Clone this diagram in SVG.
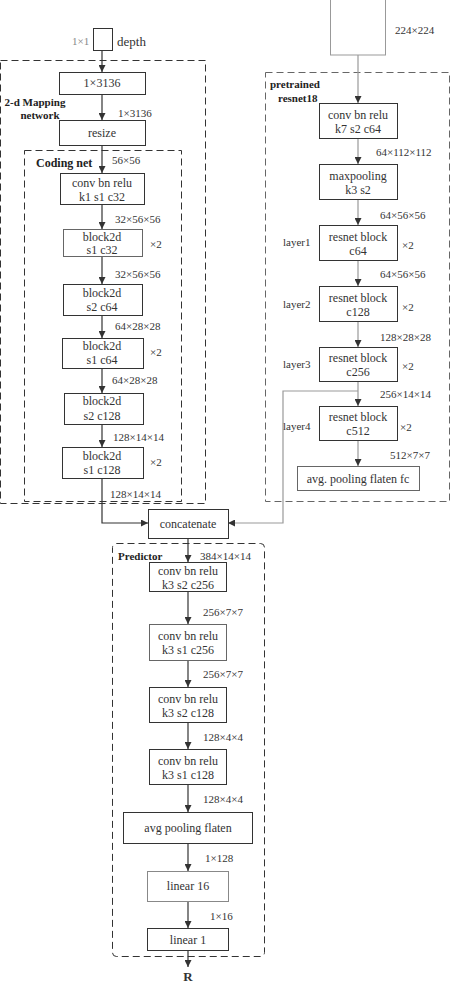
<svg xmlns="http://www.w3.org/2000/svg" width="452" height="986" viewBox="0 0 452 986">
<defs>
<marker id="ah" viewBox="0 0 8 8" refX="8" refY="4" markerWidth="7" markerHeight="7" markerUnits="userSpaceOnUse" orient="auto">
<path d="M0,0 L8,4 L0,8 z" fill="#333"/>
</marker>
</defs>
<style>
text{font-family:"Liberation Serif","Times New Roman",serif;fill:#333}
.b{fill:#fff;stroke:#333;stroke-width:1}
.bt{font-size:12px;text-anchor:middle}
.lb{font-size:11px}
.hd{font-size:11px;font-weight:bold;fill:#222}
.dash{fill:none;stroke:#333;stroke-width:1;stroke-dasharray:7,4}
.c{fill:none;stroke:#333;stroke-width:1.2}
.cg{fill:none;stroke:#999;stroke-width:1.2}
</style>
<rect width="452" height="986" fill="#fff"/>

<g id="containers">
<rect id="mapping" class="dash" x="0.5" y="60.5" width="205" height="443"/>
<rect id="codingnet" class="dash" x="24.5" y="150.5" width="157" height="351"/>
<rect id="resnet" class="dash" x="265.5" y="72.5" width="184" height="429" style="stroke:#666"/>
<rect id="predictor" class="dash" x="112.5" y="543.5" width="152" height="413" rx="4"/>
<text class="hd" x="35" y="106" text-anchor="middle">2-d Mapping</text>
<text class="hd" x="40" y="119" text-anchor="middle">network</text>
<text class="hd" x="36" y="167" style="font-size:12px">Coding net</text>
<text class="hd" x="270" y="88">pretrained</text>
<text class="hd" x="278" y="102">resnet18</text>
<text class="hd" x="118" y="560">Predictor</text>
</g>

<g id="connectors">
<line class="c" x1="102" y1="50" x2="102" y2="72" marker-end="url(#ah)"/>
<line class="c" x1="102" y1="94" x2="102" y2="120" marker-end="url(#ah)"/>
<line class="c" x1="102" y1="145" x2="102" y2="173" marker-end="url(#ah)"/>
<line class="c" x1="102" y1="204" x2="102" y2="229" marker-end="url(#ah)"/>
<line class="c" x1="102" y1="256" x2="102" y2="284" marker-end="url(#ah)"/>
<line class="c" x1="102" y1="315" x2="102" y2="338" marker-end="url(#ah)"/>
<line class="c" x1="102" y1="368" x2="102" y2="393" marker-end="url(#ah)"/>
<line class="c" x1="102" y1="424" x2="102" y2="447" marker-end="url(#ah)"/>
<path class="c" d="M102,478 V523 H148" marker-end="url(#ah)"/>
<line class="cg" x1="358" y1="55" x2="358" y2="103" marker-end="url(#ah)"/>
<line class="cg" x1="358" y1="138" x2="358" y2="164" marker-end="url(#ah)"/>
<line class="cg" x1="358" y1="199" x2="358" y2="225" marker-end="url(#ah)"/>
<line class="cg" x1="358" y1="260" x2="358" y2="286" marker-end="url(#ah)"/>
<line class="cg" x1="358" y1="321" x2="358" y2="347" marker-end="url(#ah)"/>
<line class="cg" x1="358" y1="381" x2="358" y2="406" marker-end="url(#ah)"/>
<line class="cg" x1="358" y1="440" x2="358" y2="466" marker-end="url(#ah)"/>
<path class="cg" d="M358,391 H283 V523 H228" marker-end="url(#ah)"/>
<line class="c" x1="188" y1="538" x2="188" y2="562" marker-end="url(#ah)"/>
<line class="c" x1="188" y1="591" x2="188" y2="624" marker-end="url(#ah)"/>
<line class="c" x1="188" y1="660" x2="188" y2="687" marker-end="url(#ah)"/>
<line class="c" x1="188" y1="722" x2="188" y2="749" marker-end="url(#ah)"/>
<line class="c" x1="188" y1="784" x2="188" y2="812" marker-end="url(#ah)"/>
<line class="c" x1="188" y1="843" x2="188" y2="871" marker-end="url(#ah)"/>
<line class="c" x1="188" y1="901" x2="188" y2="928" marker-end="url(#ah)"/>
<line class="c" x1="188" y1="950" x2="188" y2="967" marker-end="url(#ah)"/>
</g>

<g id="labels">
<text class="lb" x="72" y="45" style="fill:#888">1×1</text>
<text x="117" y="46" style="font-size:13px">depth</text>
<text class="lb" x="118" y="117">1×3136</text>
<text class="lb" x="112" y="164">56×56</text>
<text class="lb" x="115" y="223">32×56×56</text>
<text class="lb" x="150" y="248">×2</text>
<text class="lb" x="115" y="278">32×56×56</text>
<text class="lb" x="115" y="330">64×28×28</text>
<text class="lb" x="150" y="356">×2</text>
<text class="lb" x="112" y="384">64×28×28</text>
<text class="lb" x="113" y="441">128×14×14</text>
<text class="lb" x="150" y="466">×2</text>
<text class="lb" x="110" y="498">128×14×14</text>
<text class="lb" x="395" y="34">224×224</text>
<text class="lb" x="376" y="156">64×112×112</text>
<text class="lb" x="380" y="219">64×56×56</text>
<text class="lb" x="283" y="246">layer1</text>
<text class="lb" x="402" y="249">×2</text>
<text class="lb" x="380" y="278">64×56×56</text>
<text class="lb" x="283" y="308">layer2</text>
<text class="lb" x="402" y="311">×2</text>
<text class="lb" x="380" y="341">128×28×28</text>
<text class="lb" x="283" y="368">layer3</text>
<text class="lb" x="402" y="370">×2</text>
<text class="lb" x="380" y="398">256×14×14</text>
<text class="lb" x="283" y="430">layer4</text>
<text class="lb" x="400" y="431">×2</text>
<text class="lb" x="390" y="459">512×7×7</text>
<text class="lb" x="200" y="560">384×14×14</text>
<text class="lb" x="203" y="616">256×7×7</text>
<text class="lb" x="203" y="678">256×7×7</text>
<text class="lb" x="203" y="741">128×4×4</text>
<text class="lb" x="203" y="803">128×4×4</text>
<text class="lb" x="205" y="862">1×128</text>
<text class="lb" x="210" y="920">1×16</text>
<text x="188" y="981" text-anchor="middle" style="font-size:13px;font-weight:bold">R</text>
</g>

<g id="n-depth"><rect class="b" x="93.5" y="28.5" width="19" height="22"/></g>
<g id="n-image"><rect class="b" x="330.5" y="-1" width="55" height="56" style="stroke:#999"/></g>
<g id="n-fc3136"><rect class="b" x="59.5" y="72.5" width="86" height="22"/><text class="bt" x="102" y="87">1×3136</text></g>
<g id="n-resize"><rect class="b" x="59.5" y="120.5" width="86" height="25"/><text class="bt" x="102" y="137">resize</text></g>
<g id="n-conv1"><rect class="b" x="60.5" y="173.5" width="84" height="31"/><text class="bt" x="102" y="187">conv bn relu</text><text class="bt" x="102" y="201">k1 s1 c32</text></g>
<g id="n-blk1"><rect class="b" x="63.5" y="229.5" width="79" height="27" style="stroke:#666"/><text class="bt" x="102" y="241">block2d</text><text class="bt" x="102" y="254">s1 c32</text></g>
<g id="n-blk2"><rect class="b" x="63.5" y="284.5" width="79" height="31"/><text class="bt" x="102" y="297">block2d</text><text class="bt" x="102" y="311">s2 c64</text></g>
<g id="n-blk3"><rect class="b" x="62.5" y="338.5" width="81" height="30"/><text class="bt" x="102" y="350">block2d</text><text class="bt" x="102" y="364">s1 c64</text></g>
<g id="n-blk4"><rect class="b" x="64.5" y="393.5" width="79" height="31"/><text class="bt" x="102" y="405">block2d</text><text class="bt" x="102" y="420">s2 c128</text></g>
<g id="n-blk5"><rect class="b" x="62.5" y="447.5" width="81" height="31"/><text class="bt" x="102" y="460">block2d</text><text class="bt" x="102" y="474">s1 c128</text></g>
<g id="n-rconv"><rect class="b" x="319.5" y="103.5" width="78" height="35"/><text class="bt" x="358" y="119">conv bn relu</text><text class="bt" x="358" y="133">k7 s2 c64</text></g>
<g id="n-maxpool"><rect class="b" x="319.5" y="164.5" width="78" height="35"/><text class="bt" x="358" y="180">maxpooling</text><text class="bt" x="358" y="194">k3 s2</text></g>
<g id="n-layer1"><rect class="b" x="319.5" y="225.5" width="78" height="35"/><text class="bt" x="358" y="241">resnet block</text><text class="bt" x="358" y="255">c64</text></g>
<g id="n-layer2"><rect class="b" x="319.5" y="286.5" width="78" height="35"/><text class="bt" x="358" y="302">resnet block</text><text class="bt" x="358" y="316">c128</text></g>
<g id="n-layer3"><rect class="b" x="319.5" y="347.5" width="78" height="34"/><text class="bt" x="358" y="362">resnet block</text><text class="bt" x="358" y="376">c256</text></g>
<g id="n-layer4"><rect class="b" x="319.5" y="406.5" width="78" height="34"/><text class="bt" x="358" y="421">resnet block</text><text class="bt" x="358" y="435">c512</text></g>
<g id="n-avgfc"><rect class="b" x="297.5" y="466.5" width="122" height="24" style="stroke:#666"/><text class="bt" x="358" y="483">avg. pooling flaten fc</text></g>
<g id="n-concat"><rect class="b" x="148.5" y="509.5" width="80" height="29"/><text class="bt" x="188" y="528">concatenate</text></g>
<g id="n-p1"><rect class="b" x="149.5" y="562.5" width="77" height="29"/><text class="bt" x="188" y="575">conv bn relu</text><text class="bt" x="188" y="589">k3 s2 c256</text></g>
<g id="n-p2"><rect class="b" x="149.5" y="624.5" width="77" height="36" style="stroke:#666"/><text class="bt" x="188" y="640">conv bn relu</text><text class="bt" x="188" y="654">k3 s1 c256</text></g>
<g id="n-p3"><rect class="b" x="149.5" y="687.5" width="77" height="35"/><text class="bt" x="188" y="703">conv bn relu</text><text class="bt" x="188" y="717">k3 s2 c128</text></g>
<g id="n-p4"><rect class="b" x="149.5" y="749.5" width="77" height="35"/><text class="bt" x="188" y="765">conv bn relu</text><text class="bt" x="188" y="779">k3 s1 c128</text></g>
<g id="n-avg"><rect class="b" x="123.5" y="812.5" width="129" height="31"/><text class="bt" x="188" y="832">avg pooling flaten</text></g>
<g id="n-lin16"><rect class="b" x="147.5" y="871.5" width="81" height="30" style="stroke:#888"/><text class="bt" x="188" y="890">linear 16</text></g>
<g id="n-lin1"><rect class="b" x="147.5" y="928.5" width="81" height="22"/><text class="bt" x="188" y="944">linear 1</text></g>
</svg>
